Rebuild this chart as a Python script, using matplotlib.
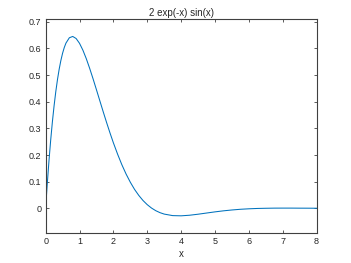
import matplotlib
matplotlib.use("Agg")
import matplotlib.pyplot as plt

# values
x = [0.0, 0.025, 0.05, 0.1, 0.15, 0.2, 0.25, 0.3, 0.35, 0.4, 0.45, 0.5, 0.55, 0.6, 0.7, 0.8, 0.9, 1.0,
     1.1, 1.2, 1.3, 1.4, 1.5, 1.6, 1.7, 1.8, 1.9, 2.0,
     2.125, 2.25, 2.375, 2.5, 2.625, 2.75, 2.875, 3.0, 3.125, 3.25, 3.375, 3.5, 3.75, 4.0, 4.25, 4.5, 4.75,
     5.0, 5.25, 5.5, 5.75, 6.0, 6.25, 6.5, 6.75, 7.0, 7.25, 7.5, 7.75, 8.0]
y = [0.0, 0.0488, 0.0951, 0.1807, 0.2572, 0.3253, 0.3854, 0.4379, 0.4833, 0.5221, 0.5547, 0.5816, 0.6031,
     0.6198, 0.6398, 0.6447, 0.6370, 0.6191,
     0.5933, 0.5615, 0.5252, 0.4860, 0.4451, 0.4036, 0.3623, 0.3220, 0.2831, 0.2461,
     0.2033, 0.1640, 0.1290, 0.0983, 0.0714, 0.0488, 0.0297, 0.0141, 0.0015, -0.0084, -0.0158, -0.0212,
     -0.0269, -0.0277, -0.0255, -0.0217, -0.0173,
     -0.0129, -0.0090, -0.0058, -0.0032, -0.0014, -0.0001, 0.0006, 0.0011, 0.0012, 0.0012, 0.0010, 0.0009, 0.0007]

xticks = [0, 1, 2, 3, 4, 5, 6, 7, 8]
yticks = [0, 0.1, 0.2, 0.3, 0.4, 0.5, 0.6, 0.7]
ytick_labels = ["0", "0.1", "0.2", "0.3", "0.4", "0.5", "0.6", "0.7"]

plt.rcParams['font.family'] = ['Liberation Sans', 'DejaVu Sans']
text_col = '#262626'
axis_col = '#404040'

fig = plt.figure(figsize=(3.51, 2.63), dpi=100)
ax = fig.add_axes([0.130, 0.1152, 0.772, 0.8114])

ax.plot(x, y, color='#0072BD', lw=0.75)

ax.set_xlim(0, 8)
ax.set_ylim(-0.091, 0.709)
ax.set_xticks(xticks)
ax.set_yticks(yticks)
ax.set_yticklabels(ytick_labels)
ax.tick_params(direction='in', length=2.5, width=0.6, colors=axis_col,
               labelcolor=text_col, labelsize=6.5, top=True, right=True, pad=3)
for s in ax.spines.values():
    s.set_color(axis_col)
    s.set_linewidth(0.8)

ax.set_xlabel('x', fontsize=7, color=text_col, labelpad=2)
ax.set_title('2 exp(-x) sin(x)', fontsize=7, color=text_col, pad=2.5)

fig.savefig('out.png', dpi=100)
